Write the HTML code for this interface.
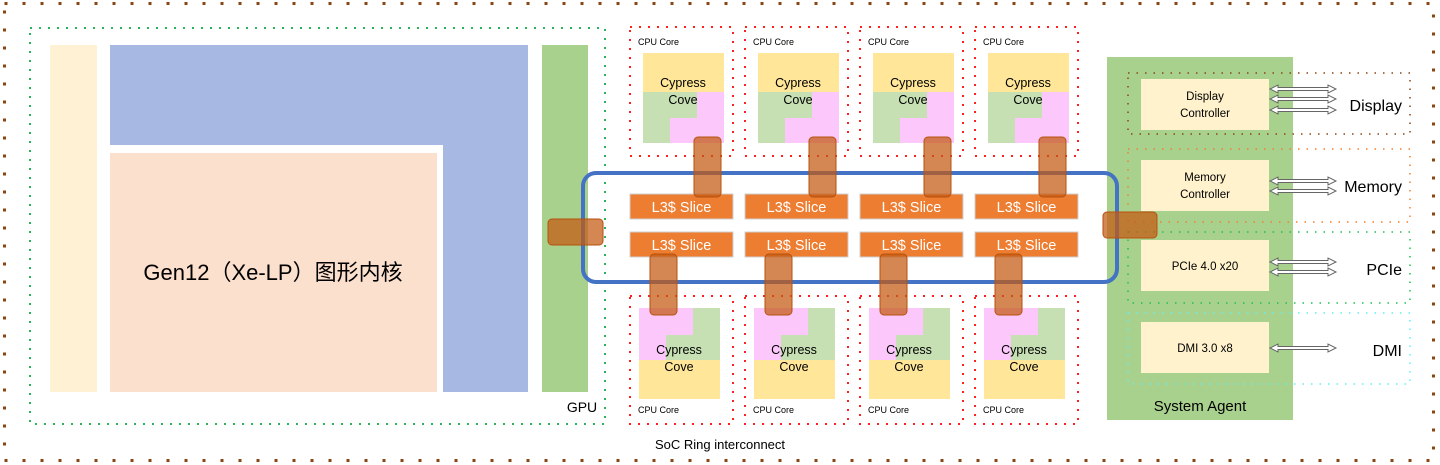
<!DOCTYPE html>
<html><head><meta charset="utf-8"><style>
html,body{margin:0;padding:0;background:#fff;}
svg{display:block;}
text{font-family:"Liberation Sans","Noto Sans CJK SC",sans-serif;}
</style></head><body>
<svg width="1440" height="465" viewBox="0 0 1440 465" xmlns="http://www.w3.org/2000/svg">
<defs>
<g id="coreT">
  <rect x="0" y="0" width="103" height="129" fill="none" stroke="#ff2020" stroke-width="2" stroke-dasharray="2 7"/>
  <text x="8" y="18" font-size="9" fill="#000">CPU Core</text>
  <rect x="13" y="26" width="81" height="90" fill="#fcc8fc"/>
  <rect x="13" y="26" width="81" height="39" fill="#ffe699"/>
  <rect x="13" y="65" width="54" height="26" fill="#c6e0b4"/>
  <rect x="13" y="91" width="27" height="25" fill="#c6e0b4"/>
  <text x="53" y="60" font-size="12.5" text-anchor="middle" fill="#000">Cypress</text>
  <text x="53" y="77" font-size="12.5" text-anchor="middle" fill="#000">Cove</text>
</g>
<g id="coreB">
  <rect x="0" y="0" width="103" height="128" fill="none" stroke="#ff2020" stroke-width="2" stroke-dasharray="2 7"/>
  <rect x="9" y="12" width="81" height="91" fill="#ffe699"/>
  <rect x="9" y="12" width="81" height="52" fill="#fcc8fc"/>
  <rect x="63" y="12" width="27" height="27" fill="#c6e0b4"/>
  <rect x="36" y="39" width="54" height="25" fill="#c6e0b4"/>
  <text x="49" y="58" font-size="12.5" text-anchor="middle" fill="#000">Cypress</text>
  <text x="49" y="75" font-size="12.5" text-anchor="middle" fill="#000">Cove</text>
  <text x="8" y="117" font-size="9" fill="#000">CPU Core</text>
</g>
<g id="l3">
  <rect x="0" y="0" width="103" height="25" fill="#ed7d31" stroke="#d0d0d0" stroke-width="1"/>
  <text x="51.5" y="18" font-size="14.5" text-anchor="middle" fill="#fff">L3$ Slice</text>
</g>
<path id="arr" d="M0 0 L8 -4 L8 -1.5 L58 -1.5 L58 -4 L66 0 L58 4 L58 1.5 L8 1.5 L8 4 Z" fill="#fff" stroke="#666" stroke-width="1"/>
</defs>

<!-- outer border -->
<rect x="4.5" y="3.5" width="1429" height="457" fill="none" stroke="#8b4513" stroke-width="3" stroke-dasharray="3 15"/>

<!-- GPU -->
<rect x="30" y="28" width="575" height="396" fill="none" stroke="#2db35a" stroke-width="2" stroke-dasharray="2 7"/>
<rect x="50" y="45" width="47" height="347" fill="#fff2d4"/>
<path d="M110 45 H528 V392 H443 V145 H110 Z" fill="#a7b9e2"/>
<rect x="110" y="153" width="327" height="239" fill="#fbe0cd"/>
<rect x="542" y="45" width="46" height="347" fill="#a9d18e"/>
<text x="273" y="280" font-size="22" text-anchor="middle" fill="#000">Gen12（Xe-LP）图形内核</text>
<text x="582" y="412" font-size="14" text-anchor="middle" fill="#000">GPU</text>

<!-- System agent -->
<rect x="1107" y="57" width="186" height="363" fill="#a9d18e"/>
<text x="1200" y="411" font-size="15" text-anchor="middle" fill="#000">System Agent</text>

<rect x="1128" y="73" width="282" height="61" fill="none" stroke="#8b4513" stroke-width="1.5" stroke-dasharray="1.5 7"/>
<rect x="1128" y="149" width="282" height="73" fill="none" stroke="#f4802f" stroke-width="1.5" stroke-dasharray="1.5 7"/>
<rect x="1128" y="232" width="282" height="71" fill="none" stroke="#1fbf55" stroke-width="1.5" stroke-dasharray="1.5 7"/>
<rect x="1128" y="313" width="282" height="71" fill="none" stroke="#5ff0f0" stroke-width="1.5" stroke-dasharray="1.5 7"/>

<g fill="#fff2cc">
<rect x="1141" y="79" width="128" height="51"/>
<rect x="1141" y="160" width="128" height="51"/>
<rect x="1141" y="240" width="128" height="51"/>
<rect x="1141" y="322" width="128" height="51"/>
</g>
<g font-size="11.5" text-anchor="middle" fill="#000">
<text x="1205" y="100">Display</text>
<text x="1205" y="117">Controller</text>
<text x="1205" y="181">Memory</text>
<text x="1205" y="198">Controller</text>
<text x="1205" y="270">PCIe 4.0 x20</text>
<text x="1205" y="352">DMI 3.0 x8</text>
</g>

<use href="#arr" x="1270" y="89"/>
<use href="#arr" x="1270" y="99"/>
<use href="#arr" x="1270" y="110"/>
<use href="#arr" x="1270" y="181"/>
<use href="#arr" x="1270" y="191"/>
<use href="#arr" x="1270" y="262"/>
<use href="#arr" x="1270" y="272"/>
<use href="#arr" x="1270" y="348"/>

<g font-size="16" text-anchor="end" fill="#000">
<text x="1402" y="111">Display</text>
<text x="1402" y="192">Memory</text>
<text x="1402" y="275">PCIe</text>
<text x="1402" y="356">DMI</text>
</g>

<!-- cores top -->
<use href="#coreT" x="630" y="27"/>
<use href="#coreT" x="745" y="27"/>
<use href="#coreT" x="860" y="27"/>
<use href="#coreT" x="975" y="27"/>
<!-- cores bottom -->
<use href="#coreB" x="630" y="296"/>
<use href="#coreB" x="745" y="296"/>
<use href="#coreB" x="860" y="296"/>
<use href="#coreB" x="975" y="296"/>

<!-- ring -->
<rect x="583" y="173" width="534" height="109" rx="13" fill="none" stroke="#4472c4" stroke-width="4"/>

<use href="#l3" x="630" y="194"/>
<use href="#l3" x="745" y="194"/>
<use href="#l3" x="860" y="194"/>
<use href="#l3" x="975" y="194"/>
<use href="#l3" x="630" y="232"/>
<use href="#l3" x="745" y="232"/>
<use href="#l3" x="860" y="232"/>
<use href="#l3" x="975" y="232"/>

<!-- connectors -->
<g fill="rgba(196,89,17,0.72)" stroke="#b5520f" stroke-width="1">
<rect x="694" y="137" width="27" height="60" rx="4"/>
<rect x="809" y="137" width="27" height="60" rx="4"/>
<rect x="924" y="137" width="27" height="60" rx="4"/>
<rect x="1039" y="137" width="27" height="60" rx="4"/>
<rect x="650" y="254" width="27" height="61" rx="4"/>
<rect x="765" y="254" width="27" height="61" rx="4"/>
<rect x="880" y="254" width="27" height="61" rx="4"/>
<rect x="995" y="254" width="27" height="61" rx="4"/>
<rect x="548" y="219" width="55" height="26" rx="4"/>
<rect x="1103" y="212" width="54" height="26" rx="4"/>
</g>

<text x="720" y="449" font-size="13" text-anchor="middle" fill="#000">SoC Ring interconnect</text>
</svg>
</body></html>
